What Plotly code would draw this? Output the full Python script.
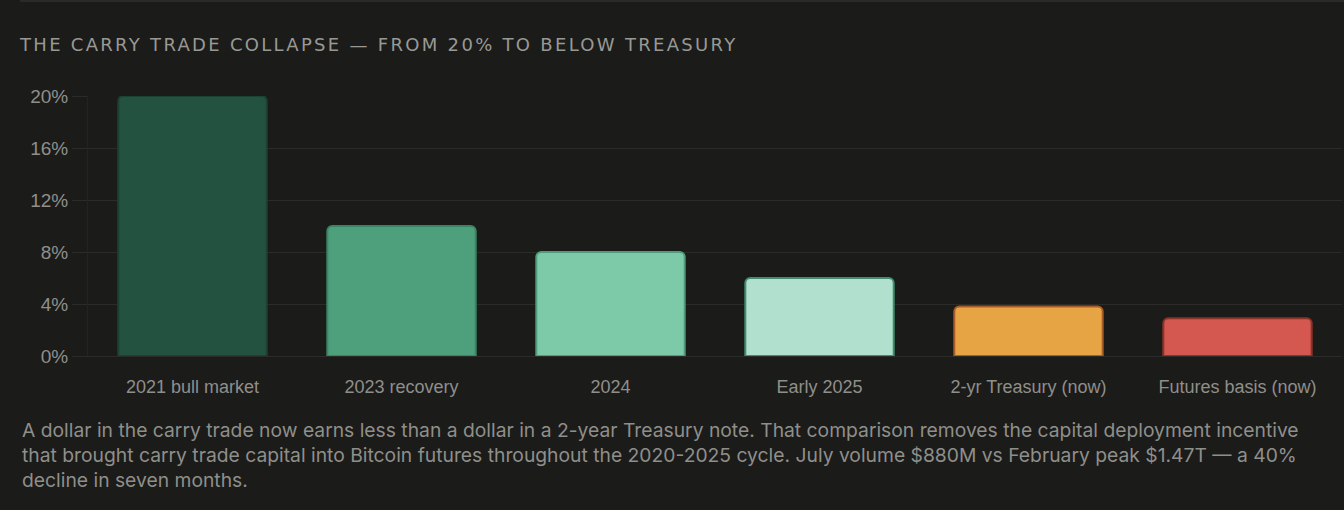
import plotly.graph_objects as go

# data
categories = ['2021 bull market', '2023 recovery', '2024', 'Early 2025',
              '2-yr Treasury (now)', 'Futures basis (now)']
carry_yield = [20, 10, 8, 6, 3.8, 2.9]

fill_colors = ['#235241', '#4e9f7c', '#7ccaa8', '#b2e0cf', '#e7a444', '#d45750']
edge_colors = ['#1c4234', '#3b8565', '#4f9d7c', '#3f8f6e', '#a85c28', '#8c3329']
y_ticks = [0, 4, 8, 12, 16, 20]
y_labels = [f'{v}%' for v in y_ticks]

title_text = 'THE CARRY TRADE COLLAPSE — FROM 20% TO BELOW TREASURY'
caption_lines = [
    'A dollar in the carry trade now earns less than a dollar in a 2-year Treasury note. '
    'That comparison removes the capital deployment incentive',
    'that brought carry trade capital into Bitcoin futures throughout the 2020-2025 cycle. '
    'July volume $880M vs February peak $1.47T — a 40%',
    'decline in seven months.',
]

BG = '#1b1b1a'
GRID = '#2b2b2a'
TXT = '#8f8f8a'

fig = go.Figure()
fig.add_trace(go.Bar(
    x=categories, y=carry_yield,
    marker=dict(color=fill_colors, line=dict(color=edge_colors, width=2), cornerradius=5),
    width=0.71, hoverinfo='x+y',
))

fig.update_layout(
    width=1344, height=510,
    paper_bgcolor=BG, plot_bgcolor=BG,
    margin=dict(l=88, r=2, t=96, b=154),
    showlegend=False,
    font=dict(family='Liberation Sans, Arial, sans-serif', color=TXT, size=17),
    title=dict(text=f'<span style="letter-spacing:2.3px">{title_text}</span>',
               x=0, xref='container', xanchor='left', y=1, yref='container',
               yanchor='top', pad=dict(t=38, l=20),
               font=dict(family='DejaVu Sans, sans-serif', size=18, color='#999994')),
)

fig.update_yaxes(range=[0, 20], tickvals=y_ticks, ticktext=y_labels, showgrid=True,
                 gridcolor=GRID, gridwidth=1, zeroline=False, ticks='outside',
                 ticklen=15, tickcolor=GRID, showline=True, linecolor='#232322',
                 tickfont=dict(size=19, color=TXT), fixedrange=True)
fig.update_xaxes(showgrid=False, ticks='', showline=True, linecolor=GRID,
                 ticklabelstandoff=14,
                 tickfont=dict(size=18, color=TXT), fixedrange=True)

# thin card border at the top
fig.add_shape(type='line', xref='paper', yref='paper',
              x0=(20 - 88) / 1254, x1=1.002, y0=355 / 260, y1=355 / 260,
              line=dict(color='#3a3a39', width=1))

fig.add_annotation(text='<br>'.join(caption_lines), xref='paper', yref='paper',
                   x=(20 - 88) / 1254, y=-0.23, xanchor='left', yanchor='top',
                   align='left', showarrow=False,
                   font=dict(family='Inter, sans-serif', size=19.3, color=TXT))

fig.write_html('out.html', config={'displayModeBar': False},
               post_script="document.body.style.margin='0';"
                           "document.body.style.background='#1b1b1a';")
